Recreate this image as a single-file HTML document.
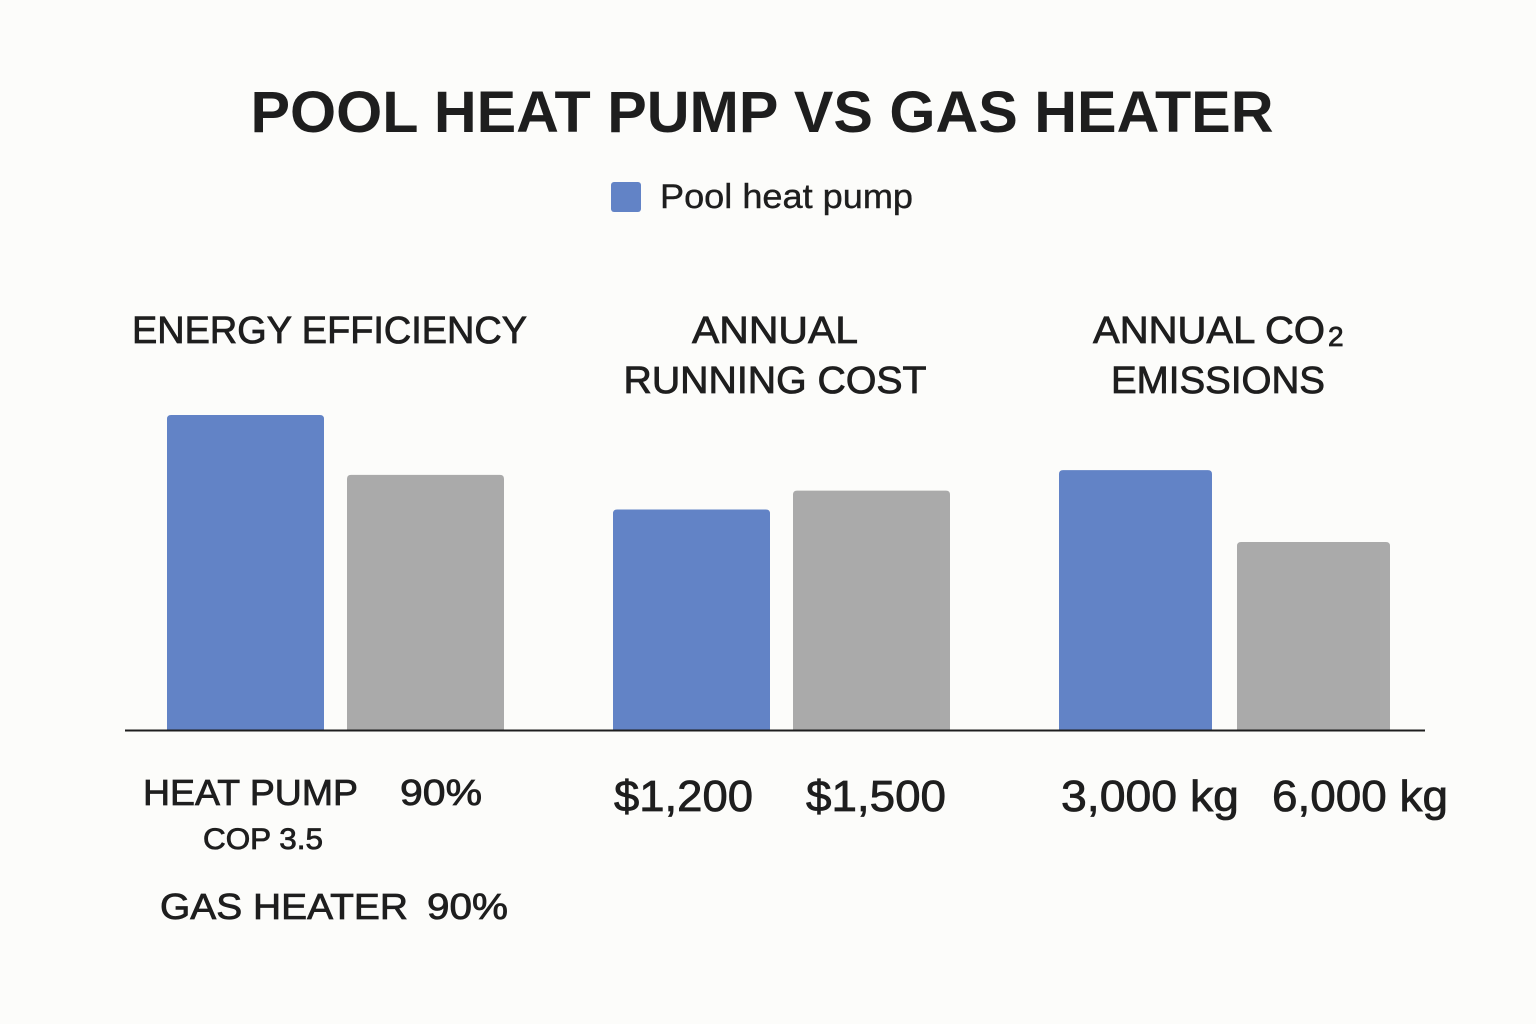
<!DOCTYPE html>
<html><head><meta charset="utf-8"><style>
html,body{margin:0;padding:0;background:#fcfcfa;}
svg{display:block;font-family:"Liberation Sans",sans-serif;}
</style></head><body>
<svg width="1536" height="1024" viewBox="0 0 1536 1024">
<rect width="1536" height="1024" fill="#fcfcfa"/>
<text x="762" y="132" text-anchor="middle" font-size="58" font-weight="bold" fill="#1e1e1e" textLength="1023" lengthAdjust="spacingAndGlyphs">POOL HEAT PUMP VS GAS HEATER</text>
<g>
<rect x="611" y="182" width="30" height="30" rx="3" fill="#6283c6"/>
<text x="660" y="208" font-size="34" fill="#1e1e1e" stroke="#1e1e1e" stroke-width="0.4" textLength="253" lengthAdjust="spacingAndGlyphs">Pool heat pump</text>
</g>
<g fill="#1e1e1e" stroke="#1e1e1e" stroke-width="0.8" font-size="38">
<text x="132" y="343" textLength="395" lengthAdjust="spacingAndGlyphs">ENERGY EFFICIENCY</text>
<text x="775" y="343" text-anchor="middle" textLength="166" lengthAdjust="spacingAndGlyphs">ANNUAL</text>
<text x="775" y="393" text-anchor="middle" textLength="303" lengthAdjust="spacingAndGlyphs">RUNNING COST</text>
<text x="1093" y="343" textLength="232" lengthAdjust="spacingAndGlyphs">ANNUAL CO</text>
<text x="1328" y="346" font-size="28">2</text>
<text x="1218" y="393" text-anchor="middle" textLength="214" lengthAdjust="spacingAndGlyphs">EMISSIONS</text>
</g>
<g id="bars"></g>
<line x1="125" y1="730.5" x2="1425" y2="730.5" stroke="#1e1e1e" stroke-width="2"/>
<g fill="#1e1e1e" stroke="#1e1e1e" stroke-width="0.8">
<text x="143" y="805" font-size="36" textLength="215" lengthAdjust="spacingAndGlyphs">HEAT PUMP</text>
<text x="400" y="805" font-size="36" textLength="82" lengthAdjust="spacingAndGlyphs">90%</text>
<text x="203" y="849" font-size="30" textLength="120" lengthAdjust="spacingAndGlyphs">COP 3.5</text>
<text x="160" y="919" font-size="36" textLength="248" lengthAdjust="spacingAndGlyphs">GAS HEATER</text>
<text x="427" y="919" font-size="36" textLength="81" lengthAdjust="spacingAndGlyphs">90%</text>
<text x="614" y="811" font-size="44" textLength="139" lengthAdjust="spacingAndGlyphs">$1,200</text>
<text x="806" y="811" font-size="44" textLength="140" lengthAdjust="spacingAndGlyphs">$1,500</text>
<text x="1061" y="811" font-size="44" textLength="178" lengthAdjust="spacingAndGlyphs">3,000 kg</text>
<text x="1272" y="811" font-size="44" textLength="176" lengthAdjust="spacingAndGlyphs">6,000 kg</text>
</g>
</svg>
<script>
const categories = ["energy-efficiency", "annual-running-cost", "annual-co2-emissions"];
const heatPumpValues = [100, 70, 82.5];
const gasHeaterValues = [81, 76, 59.7];
const yMax = 100;

const baseY = 730, plotH = 315;
const groupX = [167, 613, 1059];
const groupBarW = [157, 157, 153];
const groupGap = [23, 23, 25];
function y(v){ return baseY - v / yMax * plotH; }
const g = document.getElementById('bars');
const NS = 'http://www.w3.org/2000/svg';
function bar(x, w, v, color, name){
  const r = document.createElementNS(NS, 'path');
  const top = y(v), rr = 4;
  r.setAttribute('d', `M${x},${baseY} V${top+rr} Q${x},${top} ${x+rr},${top} H${x+w-rr} Q${x+w},${top} ${x+w},${top+rr} V${baseY} Z`);
  r.setAttribute('fill', color);
  
  
  g.appendChild(r);
}
categories.forEach((c, i) => {
  const w = groupBarW[i];
  bar(groupX[i], w, heatPumpValues[i], '#6283c6', 'bar-heat-pump-' + c);
  bar(groupX[i] + w + groupGap[i], w, gasHeaterValues[i], '#aaaaaa', 'bar-gas-heater-' + c);
});
</script>
</body></html>
